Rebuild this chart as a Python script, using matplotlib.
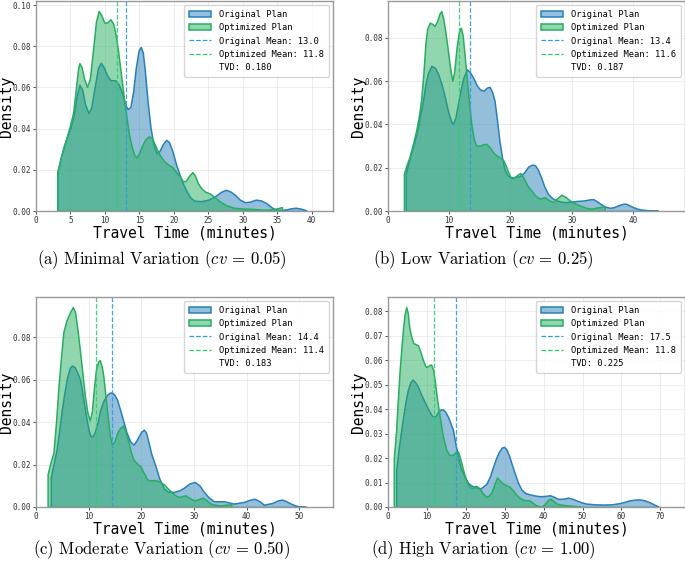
import numpy as np
import matplotlib
matplotlib.use("Agg")
import matplotlib.pyplot as plt
from matplotlib.colors import to_rgba
from matplotlib.lines import Line2D
from matplotlib.patches import Patch
from matplotlib.ticker import MultipleLocator, FormatStrFormatter

plt.rcParams.update({
    "font.family": "DejaVu Sans Mono",
    "mathtext.fontset": "cm",
})

# (a) Minimal variation -- density curves
a_orig_x = [3.1, 3.6, 4.0, 4.5, 5.0, 5.5, 5.9, 6.3, 6.7, 7.1, 7.6, 8.0, 8.5, 9.0, 9.4, 9.8,
            10.3, 10.8, 11.5, 12.0, 12.5, 12.9, 13.3, 13.7, 14.1, 14.5, 14.9, 15.2, 15.5,
            15.8, 16.2, 16.6, 17.0, 17.5, 17.9, 18.4, 18.9, 19.3, 19.8, 20.3, 20.8, 21.3,
            21.8, 22.4, 23.0, 24.0, 25.0, 26.0, 26.8, 27.5, 28.2, 28.9, 29.6, 30.3, 31.0,
            31.9, 32.6, 33.4, 34.2, 34.8, 35.5, 36.2, 37.0, 37.7, 38.4, 39.2]
a_orig_y = [0.019, 0.026, 0.031, 0.036, 0.0406, 0.047, 0.056, 0.0613, 0.059, 0.052, 0.0476,
            0.050, 0.060, 0.0695, 0.072, 0.070, 0.066, 0.0635, 0.0635, 0.0615, 0.057, 0.052,
            0.0495, 0.0505, 0.058, 0.070, 0.078, 0.0797, 0.077, 0.068, 0.053, 0.041, 0.033,
            0.028, 0.029, 0.0325, 0.0345, 0.0335, 0.029, 0.023, 0.018, 0.0135, 0.010, 0.0065,
            0.005, 0.0048, 0.0055, 0.0072, 0.0092, 0.0103, 0.0095, 0.0078, 0.0055, 0.0043,
            0.0045, 0.0055, 0.0052, 0.0039, 0.0018, 0.0007, 0.0005, 0.0007, 0.0013, 0.0016,
            0.0012, 0.0004]
a_opt_x = [3.1, 3.6, 4.2, 5.0, 5.4, 5.8, 6.1, 6.3, 6.6, 7.0, 7.4, 7.8, 8.3, 8.7, 9.1, 9.5,
           9.9, 10.3, 10.8, 11.2, 11.5, 11.9, 12.2, 12.6, 13.0, 13.5, 13.9, 14.3, 14.6, 15.0,
           15.4, 15.9, 16.4, 16.9, 17.3, 17.9, 18.5, 19.2, 19.8, 20.3, 20.8, 21.3, 21.7,
           22.2, 22.7, 23.1, 23.5, 24.0, 24.5, 25.3, 26.0, 26.8, 27.6, 28.7, 30.0, 31.5,
           33.1, 34.2, 35.0, 35.7]
a_opt_y = [0.019, 0.026, 0.033, 0.0423, 0.048, 0.060, 0.069, 0.0718, 0.070, 0.064, 0.0603,
           0.064, 0.079, 0.092, 0.0971, 0.095, 0.0915, 0.0915, 0.0931, 0.091, 0.0866, 0.078,
           0.0698, 0.059, 0.0487, 0.037, 0.031, 0.027, 0.026, 0.0285, 0.0318, 0.035, 0.0363,
           0.035, 0.0318, 0.0275, 0.0245, 0.0225, 0.0213, 0.019, 0.0172, 0.0145, 0.0145,
           0.017, 0.0189, 0.017, 0.0135, 0.011, 0.0095, 0.0084, 0.0065, 0.0044, 0.0028,
           0.0016, 0.0012, 0.0010, 0.0006, 0.0008, 0.0013, 0.0019]

# (b) Low variation
b_orig_x = [2.9, 3.3, 3.8, 4.4, 4.9, 5.3, 5.7, 6.1, 6.5, 7.1, 7.7, 8.2, 8.8, 9.3, 9.8, 10.3,
            10.6, 11.0, 11.4, 11.8, 12.3, 12.9, 13.4, 13.9, 14.5, 15.0, 15.6, 16.2, 16.6,
            17.0, 17.4, 17.8, 18.2, 18.6, 19.0, 19.5, 20.1, 20.8, 21.5, 22.2, 22.9, 23.5,
            24.0, 24.5, 25.0, 25.5, 26.1, 26.8, 27.5, 28.3, 29.1, 29.9, 30.7, 32.1, 33.0,
            33.5, 34.1, 34.8, 35.5, 36.2, 36.8, 37.6, 38.3, 38.8, 39.4, 40.0, 40.8, 41.6,
            42.8, 44.1]
b_orig_y = [0.0172, 0.022, 0.027, 0.033, 0.0386, 0.045, 0.0509, 0.058, 0.0635, 0.067, 0.066,
            0.0632, 0.058, 0.0524, 0.046, 0.0415, 0.0402, 0.043, 0.049, 0.055, 0.0615,
            0.0654, 0.064, 0.0616, 0.058, 0.0562, 0.0555, 0.057, 0.0573, 0.055, 0.0509,
            0.042, 0.0325, 0.025, 0.0195, 0.0165, 0.0156, 0.0157, 0.0161, 0.0177, 0.0205,
            0.0214, 0.0212, 0.019, 0.0156, 0.0115, 0.008, 0.006, 0.0049, 0.0043, 0.0041,
            0.0043, 0.0046, 0.0049, 0.0054, 0.0055, 0.0045, 0.0031, 0.002, 0.0015, 0.0017,
            0.0026, 0.0033, 0.0034, 0.0027, 0.0018, 0.001, 0.0006, 0.0003, 0.0002]
b_opt_x = [2.6, 3.0, 3.5, 4.0, 4.6, 5.0, 5.4, 5.8, 6.1, 6.4, 6.8, 7.2, 7.6, 8.0, 8.4, 8.7,
           9.0, 9.3, 9.6, 10.1, 10.5, 10.8, 11.2, 11.6, 11.9, 12.2, 12.5, 12.8, 13.1, 13.6,
           14.0, 14.4, 15.0, 15.6, 16.1, 16.7, 17.4, 18.1, 18.8, 19.3, 19.7, 20.1, 20.6,
           21.2, 21.6, 22.0, 22.3, 22.8, 23.4, 24.1, 24.8, 25.6, 26.2, 26.9, 27.6, 28.3,
           29.0, 29.7, 30.5, 31.3, 32.2, 33.2, 34.0, 34.6, 35.4]
b_opt_y = [0.0172, 0.021, 0.0248, 0.030, 0.0371, 0.043, 0.0509, 0.064, 0.0769, 0.084, 0.0869,
           0.0865, 0.0854, 0.0875, 0.091, 0.0923, 0.089, 0.084, 0.078, 0.067, 0.0601, 0.064,
           0.0754, 0.083, 0.0846, 0.081, 0.0723, 0.063, 0.054, 0.0402, 0.0335, 0.0302,
           0.0302, 0.0308, 0.031, 0.029, 0.0264, 0.025, 0.0236, 0.0205, 0.0175, 0.0152,
           0.0155, 0.0168, 0.0175, 0.016, 0.0144, 0.0115, 0.0095, 0.007, 0.0057, 0.0064,
           0.0052, 0.0041, 0.0058, 0.0075, 0.0065, 0.0049, 0.0035, 0.0026, 0.0016, 0.0011,
           0.0015, 0.0018, 0.0021]

# (c) Moderate variation
c_orig_x = [2.8, 3.3, 3.9, 4.4, 4.9, 5.4, 5.9, 6.4, 6.8, 7.3, 7.8, 8.4, 8.9, 9.5, 10.0, 10.4,
            10.8, 11.2, 11.7, 12.2, 12.8, 13.5, 14.0, 14.4, 14.9, 15.4, 16.0, 16.6, 17.2,
            17.9, 18.5, 19.0, 19.5, 20.0, 20.5, 20.9, 21.4, 21.9, 22.7, 23.4, 24.3, 25.0,
            26.2, 27.2, 28.1, 29.1, 30.1, 31.0, 31.9, 32.8, 33.8, 35.7, 37.6, 39.5, 40.5,
            41.5, 42.4, 43.3, 44.9, 45.8, 46.7, 47.5, 48.4, 49.3, 50.0, 51.3]
c_orig_y = [0.014, 0.020, 0.027, 0.036, 0.0458, 0.054, 0.061, 0.0655, 0.0666, 0.066, 0.0635,
            0.0598, 0.052, 0.0427, 0.036, 0.0333, 0.0335, 0.0356, 0.040, 0.0458, 0.050,
            0.0528, 0.0538, 0.054, 0.0528, 0.0505, 0.0455, 0.0403, 0.035, 0.0309, 0.0294,
            0.031, 0.0333, 0.0355, 0.0364, 0.035, 0.0302, 0.025, 0.0192, 0.0135, 0.0087,
            0.0073, 0.0071, 0.0078, 0.0091, 0.011, 0.0118, 0.0103, 0.0071, 0.0045, 0.0027,
            0.0027, 0.0016, 0.0024, 0.0033, 0.0039, 0.0028, 0.0011, 0.0019, 0.003, 0.0035,
            0.0028, 0.0016, 0.0007, 0.0003, 0.0001]
c_opt_x = [2.2, 2.7, 3.3, 3.8, 4.3, 4.8, 5.2, 5.8, 6.5, 7.0, 7.4, 7.9, 8.4, 8.9, 9.3, 9.8,
           10.2, 10.6, 11.0, 11.4, 11.8, 12.1, 12.5, 12.8, 13.2, 13.6, 14.0, 14.4, 14.9,
           15.4, 15.9, 16.5, 17.0, 17.6, 18.0, 18.5, 19.2, 19.8, 20.5, 21.1, 21.7, 22.4,
           23.0, 23.6, 24.3, 25.0, 25.5, 26.3, 27.1, 27.8, 28.4, 29.2, 30.0, 30.8, 31.6,
           32.4, 33.2, 34.1, 35.1, 36.1, 37.1]
c_opt_y = [0.0154, 0.0205, 0.0255, 0.040, 0.058, 0.072, 0.0825, 0.088, 0.092, 0.0942, 0.092,
           0.083, 0.0723, 0.061, 0.052, 0.044, 0.0408, 0.045, 0.056, 0.065, 0.0685, 0.0692,
           0.066, 0.0614, 0.052, 0.0427, 0.034, 0.0294, 0.031, 0.0348, 0.037, 0.0383,
           0.0355, 0.0302, 0.026, 0.0223, 0.0205, 0.0192, 0.016, 0.013, 0.0125, 0.0127,
           0.0124, 0.0117, 0.0107, 0.0088, 0.0076, 0.0058, 0.0047, 0.0052, 0.0055, 0.0042,
           0.0031, 0.0036, 0.0044, 0.0032, 0.0016, 0.0010, 0.0008, 0.0011, 0.0013]

# (d) High variation
d_orig_x = [2.1, 2.6, 3.2, 3.9, 4.5, 5.1, 5.7, 6.3, 7.0, 7.7, 8.5, 9.4, 10.0, 10.7, 11.2,
            11.8, 12.3, 12.9, 13.5, 14.1, 14.7, 15.4, 16.0, 16.7, 17.3, 18.0, 18.6, 19.3,
            20.0, 20.6, 21.4, 22.3, 23.6, 24.4, 25.3, 26.2, 27.0, 27.8, 28.5, 29.2, 29.8,
            30.4, 31.1, 31.8, 32.6, 33.4, 34.3, 35.3, 36.4, 37.7, 39.0, 40.3, 41.6, 42.6,
            43.7, 45.0, 46.3, 47.3, 48.4, 49.7, 51.0, 53.0, 55.3, 57.5, 59.6, 61.0, 62.1,
            63.4, 64.7, 66.0, 67.3, 68.4, 69.4]
d_orig_y = [0.015, 0.022, 0.029, 0.0369, 0.043, 0.0478, 0.0508, 0.0521, 0.051, 0.0491,
            0.046, 0.043, 0.041, 0.0389, 0.0375, 0.0369, 0.0373, 0.0389, 0.0398, 0.0399,
            0.039, 0.0369, 0.0345, 0.0315, 0.026, 0.0206, 0.0165, 0.0138, 0.0115, 0.0098,
            0.0088, 0.0082, 0.0075, 0.0083, 0.0095, 0.0125, 0.0164, 0.020, 0.0225, 0.0242,
            0.0246, 0.0236, 0.0211, 0.0175, 0.0136, 0.0100, 0.0071, 0.0057, 0.0052, 0.0047,
            0.0044, 0.0045, 0.0048, 0.0042, 0.0033, 0.0034, 0.0038, 0.0034, 0.0027, 0.0019,
            0.0014, 0.0011, 0.001, 0.0011, 0.0016, 0.0022, 0.0027, 0.0030, 0.0031, 0.0027,
            0.0019, 0.001, 0.0003]
d_opt_x = [1.5, 2.1, 2.5, 3.0, 3.5, 3.9, 4.3, 4.7, 5.1, 5.5, 6.0, 6.5, 7.1, 7.7, 8.4, 9.0,
           9.6, 10.1, 10.6, 11.1, 11.6, 12.0, 12.6, 13.3, 14.1, 15.0, 15.8, 16.7, 17.4,
           18.0, 18.6, 19.3, 19.9, 20.6, 21.2, 21.9, 22.5, 23.0, 23.6, 24.4, 25.3, 26.0,
           26.6, 27.3, 28.0, 28.8, 29.6, 30.5, 31.3, 32.2, 33.0, 33.8, 34.7, 35.5, 36.4,
           37.2, 38.1, 39.4, 40.1, 40.7, 41.2, 41.7, 42.5, 43.3, 44.5, 45.8, 47.5, 49.5]
d_opt_y = [0.020, 0.0315, 0.043, 0.0559, 0.066, 0.0735, 0.079, 0.0817, 0.079, 0.073, 0.0695,
           0.067, 0.0665, 0.0661, 0.063, 0.060, 0.0575, 0.0573, 0.058, 0.0582, 0.056,
           0.0518, 0.044, 0.0369, 0.029, 0.0233, 0.0212, 0.0213, 0.0225, 0.0227, 0.0195,
           0.0152, 0.0118, 0.0091, 0.008, 0.0077, 0.0087, 0.0083, 0.0075, 0.0055, 0.0041,
           0.0048, 0.0061, 0.009, 0.012, 0.0108, 0.0095, 0.0088, 0.0082, 0.0066, 0.005,
           0.0038, 0.003, 0.0028, 0.0027, 0.0017, 0.0007, 0.0001, 0.0009, 0.002, 0.003,
           0.0034, 0.0025, 0.0014, 0.001, 0.0007, 0.0005, 0.0002]

orig_means = [13.0, 13.4, 14.4, 17.5]
opt_means = [11.8, 11.6, 11.4, 11.8]
tvd = [0.180, 0.187, 0.183, 0.225]
captions = [r"(a) Minimal Variation ($cv$ = 0.05)",
            r"(b) Low Variation ($cv$ = 0.25)",
            r"(c) Moderate Variation ($cv$ = 0.50)",
            r"(d) High Variation ($cv$ = 1.00)"]

panels = [(a_orig_x, a_orig_y, a_opt_x, a_opt_y),
          (b_orig_x, b_orig_y, b_opt_x, b_opt_y),
          (c_orig_x, c_orig_y, c_opt_x, c_opt_y),
          (d_orig_x, d_orig_y, d_opt_x, d_opt_y)]

blue = "#2980b9"
green = "#27ae60"
blue_mean = "#3498db"
green_mean = "#2ecc71"

fig = plt.figure(figsize=(6.85, 5.68), dpi=100)
positions = [[0.0526, 0.6285, 0.4336, 0.3697],
             [0.5664, 0.6285, 0.4336, 0.3697],
             [0.0526, 0.1074, 0.4336, 0.3697],
             [0.5664, 0.1074, 0.4336, 0.3697]]
xsteps = [5, 10, 10, 10]
ysteps = [0.02, 0.02, 0.02, 0.01]
cap_pos = [(0.236, 0.543), (0.706, 0.543), (0.236, 0.033), (0.706, 0.033)]

for i, (ox, oy, px, py) in enumerate(panels):
    ax = fig.add_axes(positions[i])
    ax.fill_between(ox, oy, 0, facecolor=to_rgba(blue, 0.5), edgecolor=blue, lw=1.1)
    ax.fill_between(px, py, 0, facecolor=to_rgba(green, 0.5), edgecolor=green, lw=1.1)
    ax.axvline(orig_means[i], color=blue_mean, ls="--", lw=0.9, alpha=0.9)
    ax.axvline(opt_means[i], color=green_mean, ls="--", lw=0.9, alpha=0.9)

    ax.set_xlim(0, max(max(ox), max(px)) * 1.1)
    ax.set_ylim(0, max(max(oy), max(py)) * 1.05)
    ax.xaxis.set_major_locator(MultipleLocator(xsteps[i]))
    ax.yaxis.set_major_locator(MultipleLocator(ysteps[i]))
    ax.yaxis.set_major_formatter(FormatStrFormatter("%.2f"))
    ax.tick_params(labelsize=5.5, length=2.5, width=0.6, pad=1.2, colors="#333333")
    ax.grid(True, color="#dddddd", lw=0.6, alpha=0.6)
    ax.set_axisbelow(True)
    for s in ax.spines.values():
        s.set_color("#999999")
        s.set_linewidth(1.0)

    ax.set_xlabel("Travel Time (minutes)", fontsize=10.5, labelpad=0.5)
    ax.set_ylabel("Density", fontsize=10.5)
    ax.yaxis.set_label_coords(-0.075, 0.5)

    handles = [Patch(facecolor=to_rgba(blue, 0.5), edgecolor=blue, lw=1.1, label="Original Plan"),
               Patch(facecolor=to_rgba(green, 0.5), edgecolor=green, lw=1.1, label="Optimized Plan"),
               Line2D([], [], color=blue_mean, ls="--", lw=0.9, label=f"Original Mean: {orig_means[i]:.1f}"),
               Line2D([], [], color=green_mean, ls="--", lw=0.9, label=f"Optimized Mean: {opt_means[i]:.1f}"),
               Line2D([], [], ls="none", label=f"TVD: {tvd[i]:.3f}")]
    ax.legend(handles=handles, loc="upper right", fontsize=6.3, handlelength=2.5,
              handletextpad=1.0, labelspacing=0.5, borderpad=0.5, framealpha=0.8,
              edgecolor="#cccccc")

    fig.text(cap_pos[i][0], cap_pos[i][1], captions[i], family="cmr10", fontsize=12,
             ha="center", va="center")

fig.savefig("out.png", dpi=100)
